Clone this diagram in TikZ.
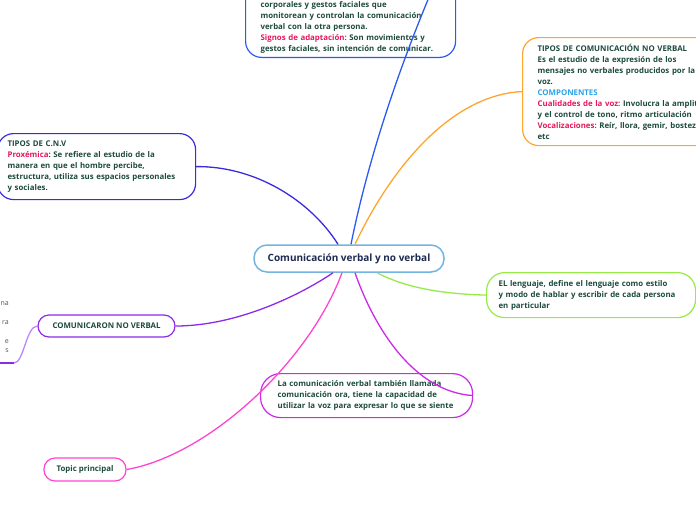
\documentclass[tikz,border=0pt]{standalone}
\usepackage{fontspec}
\setmainfont{Open Sans}
\definecolor{maptext}{HTML}{1D4B3E}
\definecolor{mapnavy}{HTML}{1E2B50}
\definecolor{mapred}{HTML}{E6185A}
\definecolor{mapcyan}{HTML}{2BA3E8}
\definecolor{mapgray}{HTML}{555555}
\definecolor{mapsky}{HTML}{73B4E0}
\definecolor{mapblue}{HTML}{2B5BEE}
\definecolor{mapindigo}{HTML}{3A2BE0}
\definecolor{maporange}{HTML}{FFA52E}
\definecolor{mapgreen}{HTML}{96EB47}
\definecolor{mappurple}{HTML}{8A2BE8}
\definecolor{maplilac}{HTML}{B888FF}
\definecolor{mapmagenta}{HTML}{CC2AE8}
\definecolor{mappink}{HTML}{FF45D0}
\newcommand{\keyword}[1]{\textcolor{mapred}{#1}}
\frenchspacing

\begin{document}
\begin{tikzpicture}[
        x=1pt, y=-1pt,
        every node/.style={font=\fontsize{7.85}{11}\selectfont\bfseries, text=maptext},
        topic/.style={rounded corners=11pt, line width=1.2pt, fill=white, align=center, inner sep=0pt},
        branch/.style={rounded corners=16pt, line width=1.2pt, fill=white, align=left, inner ysep=4pt},
        link/.style={line width=1.3pt}
    ]
        \useasboundingbox (0,0) rectangle (696,520);
        \clip (0,0) rectangle (696,520);

        \node[topic, draw=mapsky, line width=1.5pt, rounded corners=13pt, minimum width=190pt, minimum height=27pt, font=\fontsize{10}{12}\selectfont\bfseries, text=mapnavy] (centro) at (349,258.5) {Comunicación verbal y no verbal};

        \node[branch, draw=mapblue, text width=180pt, inner xsep=15pt, anchor=south west] (signos) at (245,58) {\mbox{}\\[40pt]corporales y gestos faciales que\\monitorean y controlan la comunicación\\verbal con la otra persona.\\\keyword{Signos de adaptación:} Son movimientos y\\gestos faciales, sin intención de comunicar.};
        \node[branch, draw=maporange, text width=200pt, inner xsep=15pt, minimum height=108pt, anchor=north west] (vocal) at (522,37) {TIPOS DE COMUNICACIÓN NO VERBAL\\Es el estudio de la expresión de los\\mensajes no verbales producidos por la\\voz.\\\textcolor{mapcyan}{COMPONENTES}\\\keyword{Cualidades de la voz:} Involucra la amplitud\\y el control de tono, ritmo articulación\\\keyword{Vocalizaciones:} Reír, llora, gemir, bostezar,\\etc};
        \node[branch, draw=mapindigo, text width=178pt, inner xsep=10pt, minimum height=66pt, anchor=north west] (tipos) at (-3,133) {TIPOS DE C.N.V\\\keyword{Proxémica}: Se refiere al estudio de la\\manera en que el hombre percibe,\\estructura, utiliza sus espacios personales\\y sociales.};
        \node[branch, draw=mapgreen, rounded corners=18pt, text width=185pt, inner xsep=12pt, minimum height=45pt, anchor=north west] (lenguaje) at (486,272) {EL lenguaje, define el lenguaje como estilo\\y modo de hablar y escribir de cada persona\\en particular};
        \node[branch, draw=mapmagenta, rounded corners=20pt, text width=178pt, inner xsep=17pt, minimum height=44pt, anchor=north west] (oral) at (260,373) {La comunicación verbal también llamada\\comunicación ora, tiene la capacidad de\\utilizar la voz para expresar lo que se siente};
        \node[topic, draw=mappurple, minimum width=137pt, minimum height=22pt] (comunicaron) at (106.5,326) {COMUNICARON NO VERBAL};
        \node[topic, draw=mappink, minimum width=82pt, minimum height=23pt] (principal) at (85,469.5) {Topic principal};
        \node[anchor=south east, align=right, inner xsep=5pt, inner ysep=10pt, text=mapgray, font=\fontsize{7}{9.5}\selectfont] (detalle) at (14,363) {na\\[9.5pt]ra\\[9.5pt]e\\s};
        \coordinate (signosend) at (445,-40);

        \draw[link, draw=mapindigo] (tipos.east) .. controls (255,166) and (310,200) .. ([xshift=-11pt]centro.north);
        \draw[link, draw=mapblue] ([xshift=2pt]centro.north) .. controls (370,150) and (405,50) .. (signosend);
        \draw[link, draw=maporange] ([xshift=6pt]centro.north) .. controls (390,170) and (450,95) .. (vocal.west);
        \draw[link, draw=mapgreen] ([xshift=28pt]centro.south) .. controls (410,290) and (450,294) .. (lenguaje.west);
        \draw[link, draw=mappurple] ([xshift=-16pt]centro.south) .. controls (305,292) and (240,326) .. (comunicaron.east);
        \draw[link, draw=mapmagenta] ([xshift=6pt]centro.south) .. controls (375,330) and (415,392) .. (oral.east);
        \draw[link, draw=mappink] ([xshift=-7pt]centro.south) .. controls (310,360) and (210,455) .. (principal.east);
        \draw[link, draw=maplilac] (comunicaron.west) .. controls (26,326) and (24,363) .. (detalle.south east);
        \draw[link, draw=mappurple] (detalle.south east) -- (detalle.south west);
    \end{tikzpicture}
\end{document}
